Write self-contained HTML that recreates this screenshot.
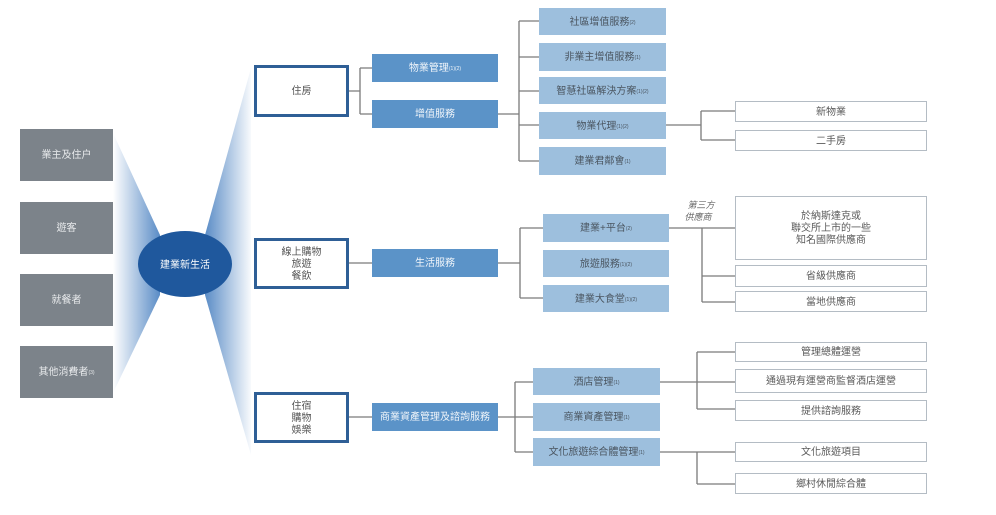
<!DOCTYPE html>
<html><head><meta charset="utf-8">
<style>
*{margin:0;padding:0;box-sizing:border-box}
body{width:996px;height:515px;background:#fff;position:relative;overflow:hidden;font-family:"Liberation Sans","Noto Sans CJK TC","Noto Sans CJK SC",sans-serif}
.b{position:absolute;display:flex;align-items:center;justify-content:center;text-align:center;font-size:10px;line-height:12px;padding-top:2px}
.g{background:#7c838a;color:#e8eaec}
.l1{background:#fff;border:3px solid #2f5f96;color:#555}
.l2{background:#5b93c8;color:#f0f5fa}
.l3{background:#9dbfdd;color:#4a5560}
.w{background:#fff;border:1.5px solid #b4bcc4;color:#5a5a5a}
sup{font-size:5px;line-height:0;vertical-align:4px}
svg{position:absolute;left:0;top:0}
</style></head><body>
<svg width="996" height="515">
<defs>
<linearGradient id="lf" x1="113" y1="0" x2="160" y2="0" gradientUnits="userSpaceOnUse">
<stop offset="0" stop-color="#ffffff"/><stop offset="1" stop-color="#5a8cc6"/>
</linearGradient>
<linearGradient id="rf" x1="205" y1="0" x2="253" y2="0" gradientUnits="userSpaceOnUse">
<stop offset="0" stop-color="#5a8cc6"/><stop offset="1" stop-color="#ffffff"/>
</linearGradient>
</defs>
<polygon points="113,133 160,235 160,295 113,393" fill="url(#lf)"/>
<polygon points="205,235 251,68 251,455 205,295" fill="url(#rf)"/>
<ellipse cx="185" cy="264" rx="47" ry="33" fill="#1f589d"/>
<g stroke="#7a7a7a" stroke-width="1.3" fill="none">
<path d="M349 91H360M360 68V114M360 68H372M360 114H372"/>
<path d="M498 114H519M519 21V161M519 21H539M519 57H539M519 91H539M519 125H539M519 161H539"/>
<path d="M666 125H701M701 111V140M701 111H735M701 140H735"/>
<path d="M349 263H372"/>
<path d="M498 263H520M520 228V298M520 228H543M520 298H543"/>
<path d="M669 228H735M702 228V302M702 276H735M702 302H735"/>
<path d="M349 417H372"/>
<path d="M498 417H533M515 382V452M515 382H533M515 452H533"/>
<path d="M660 382H735M697 352V409M697 352H735M697 409H735"/>
<path d="M660 452H735M697 452V484M697 484H735"/>
</g>
<text x="185" y="268" fill="#fff" font-size="10" text-anchor="middle" font-family="Liberation Sans, Noto Sans CJK TC, sans-serif">建業新生活</text>
<text x="701" y="208" fill="#666" font-size="9" font-style="italic" text-anchor="middle" font-family="Liberation Sans, Noto Sans CJK TC, sans-serif">第三方</text>
<text x="698" y="220" fill="#666" font-size="9" font-style="italic" text-anchor="middle" font-family="Liberation Sans, Noto Sans CJK TC, sans-serif">供應商</text>
</svg>

<div class="b g" style="left:20px;top:129px;width:93px;height:52px">業主及住户</div>
<div class="b g" style="left:20px;top:202px;width:93px;height:52px">遊客</div>
<div class="b g" style="left:20px;top:274px;width:93px;height:52px">就餐者</div>
<div class="b g" style="left:20px;top:346px;width:93px;height:52px">其他消費者<sup>(3)</sup></div>

<div class="b l1" style="left:254px;top:65px;width:95px;height:52px">住房</div>
<div class="b l1" style="left:254px;top:238px;width:95px;height:51px">線上購物<br>旅遊<br>餐飲</div>
<div class="b l1" style="left:254px;top:392px;width:95px;height:51px">住宿<br>購物<br>娛樂</div>

<div class="b l2" style="left:372px;top:54px;width:126px;height:28px">物業管理<sup>(1)(2)</sup></div>
<div class="b l2" style="left:372px;top:100px;width:126px;height:28px">增值服務</div>
<div class="b l2" style="left:372px;top:249px;width:126px;height:28px">生活服務</div>
<div class="b l2" style="left:372px;top:403px;width:126px;height:28px">商業資產管理及諮詢服務</div>

<div class="b l3" style="left:539px;top:8px;width:127px;height:27px">社區增值服務<sup>(2)</sup></div>
<div class="b l3" style="left:539px;top:43px;width:127px;height:28px">非業主增值服務<sup>(1)</sup></div>
<div class="b l3" style="left:539px;top:77px;width:127px;height:27px">智慧社區解決方案<sup>(1)(2)</sup></div>
<div class="b l3" style="left:539px;top:112px;width:127px;height:27px">物業代理<sup>(1)(2)</sup></div>
<div class="b l3" style="left:539px;top:147px;width:127px;height:28px">建業君鄰會<sup>(1)</sup></div>

<div class="b l3" style="left:543px;top:214px;width:126px;height:28px">建業+平台<sup>(2)</sup></div>
<div class="b l3" style="left:543px;top:250px;width:126px;height:27px">旅遊服務<sup>(1)(2)</sup></div>
<div class="b l3" style="left:543px;top:285px;width:126px;height:27px">建業大食堂<sup>(1)(2)</sup></div>

<div class="b l3" style="left:533px;top:368px;width:127px;height:27px">酒店管理<sup>(1)</sup></div>
<div class="b l3" style="left:533px;top:403px;width:127px;height:28px">商業資產管理<sup>(1)</sup></div>
<div class="b l3" style="left:533px;top:438px;width:127px;height:28px">文化旅遊綜合體管理<sup>(1)</sup></div>

<div class="b w" style="left:735px;top:101px;width:192px;height:21px">新物業</div>
<div class="b w" style="left:735px;top:130px;width:192px;height:21px">二手房</div>

<div class="b w" style="left:735px;top:196px;width:192px;height:64px">於納斯達克或<br>聯交所上市的一些<br>知名國際供應商</div>
<div class="b w" style="left:735px;top:265px;width:192px;height:22px">省級供應商</div>
<div class="b w" style="left:735px;top:291px;width:192px;height:21px">當地供應商</div>

<div class="b w" style="left:735px;top:342px;width:192px;height:20px">管理總體運營</div>
<div class="b w" style="left:735px;top:369px;width:192px;height:24px">通過現有運營商監督酒店運營</div>
<div class="b w" style="left:735px;top:400px;width:192px;height:21px">提供諮詢服務</div>
<div class="b w" style="left:735px;top:442px;width:192px;height:20px">文化旅遊項目</div>
<div class="b w" style="left:735px;top:473px;width:192px;height:21px">鄉村休閒綜合體</div>
</body></html>
